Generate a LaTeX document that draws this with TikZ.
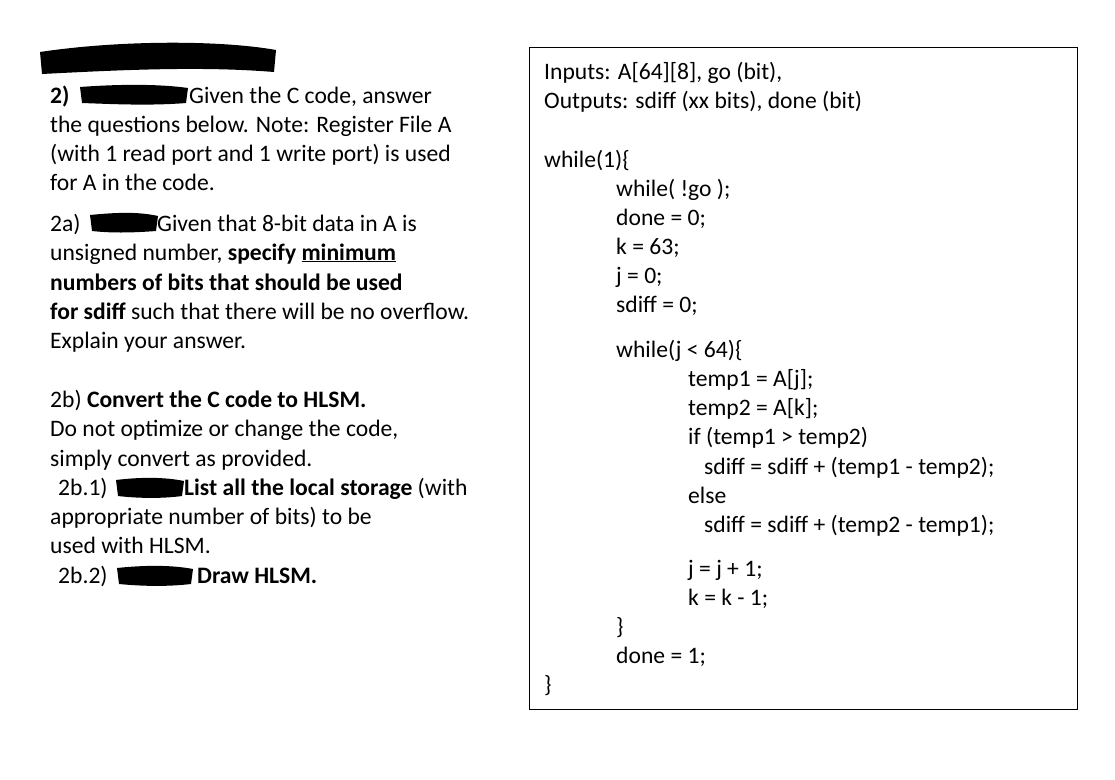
\documentclass[tikz,border=0pt]{standalone}
\usepackage{fontspec}
\setmainfont{Carlito}
\begin{document}
\begin{tikzpicture}[x=1pt,y=-1pt,
  t/.style={anchor=base west,inner sep=0pt,font=\fontsize{23.6}{26}\selectfont},
  blob/.style={fill=black,rounded corners=8pt}]
\useasboundingbox (0,0) rectangle (1115,779);
% redactions
\fill[black] (40,52) .. controls (120,40) and (220,40) .. (276,50) -- (274,72) .. controls (200,66) and (120,70) .. (42,74) -- cycle;
\node[t] (l1) at (50,103) {\textbf{2)}};
\fill[black] (80,87) .. controls (120,84) and (160,84) .. (188,88) -- (186,103) .. controls (150,106) and (110,104) .. (82,103) -- cycle;
\node[t] (l1b) at (189,103) {Given the C code, answer};
\node[t] (l2) at (50,132) {the questions below. Note: Register File A};
\node[t] (l3) at (50,161) {(with 1 read port and 1 write port) is used};
\node[t] (l4) at (50,190) {for A in the code.};
\node[t] (a1) at (50,231) {2a)};
\fill[black] (90,215) .. controls (120,212) and (140,212) .. (158,216) -- (156,231) .. controls (130,233) and (110,233) .. (92,231) -- cycle;
\node[t] (a1b) at (157,231) {Given that 8-bit data in A is};
\node[t] (a2) at (50,260) {unsigned number, \textbf{specify \underline{minimum}}};
\node[t] (a3) at (50,290) {\textbf{numbers of bits that should be used}};
\node[t] (a4) at (50,319) {\textbf{for sdiff} such that there will be no overflow.};
\node[t] (a5) at (50,348) {Explain your answer.};
\node[t] (b1) at (50,407) {2b) \textbf{Convert the C code to HLSM.}};
\node[t] (b2) at (50,436) {Do not optimize or change the code,};
\node[t] (b3) at (50,466) {simply convert as provided.};
\node[t] (b4) at (58,495) {2b.1)};
\fill[black] (116,480) .. controls (140,477) and (165,477) .. (184,481) -- (182,496) .. controls (160,499) and (135,498) .. (118,496) -- cycle;
\node[t] (b4b) at (184,495) {\textbf{List all the local storage} (with};
\node[t] (b5) at (50,524) {appropriate number of bits) to be};
\node[t] (b6) at (50,553) {used with HLSM.};
\node[t] (c1) at (58,583) {2b.2)};
\fill[black] (117,568) .. controls (145,565) and (172,565) .. (193,569) -- (191,584) .. controls (165,587) and (140,586) .. (119,584) -- cycle;
\node[t] (c1b) at (197,583) {\textbf{Draw HLSM.}};
% code box
\draw[line width=0.8pt] (529,47) rectangle (1077,709);
\node[t] (r1) at (544,79) {Inputs: A[64][8], go (bit),};
\node[t] (r2) at (544,108) {Outputs: sdiff (xx bits), done (bit)};
\node[t] (r3) at (544,167) {while(1)\{};
\node[t] (r4) at (616,196) {while( !go );};
\node[t] (r5) at (616,225) {done = 0;};
\node[t] (r6) at (616,254) {k = 63;};
\node[t] (r7) at (616,283) {j = 0;};
\node[t] (r8) at (616,312) {sdiff = 0;};
\node[t] (r9) at (616,357) {while(j < 64)\{};
\node[t] (r10) at (688,386) {temp1 = A[j];};
\node[t] (r11) at (688,415) {temp2 = A[k];};
\node[t] (r12) at (688,444) {if (temp1 > temp2)};
\node[t] (r13) at (704,474) {sdiff = sdiff + (temp1 - temp2);};
\node[t] (r14) at (688,503) {else};
\node[t] (r15) at (704,532) {sdiff = sdiff + (temp2 - temp1);};
\node[t] (r16) at (688,576) {j = j + 1;};
\node[t] (r17) at (688,605) {k = k - 1;};
\node[t] (r18) at (616,634) {\}};
\node[t] (r19) at (616,663) {done = 1;};
\node[t] (r20) at (544,692) {\}};
\end{tikzpicture}
\end{document}
